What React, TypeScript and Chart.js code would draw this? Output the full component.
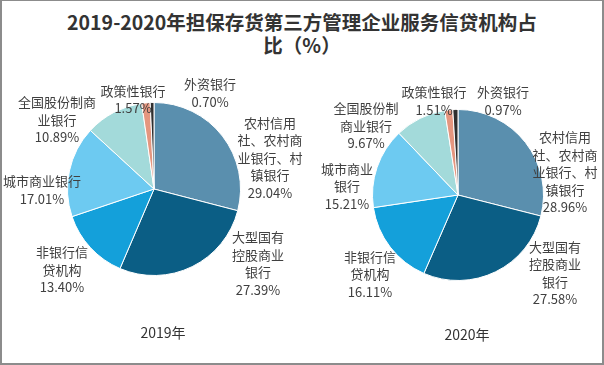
import React, { useEffect, useRef } from "react";
import { Chart, registerables } from "chart.js";

Chart.register(...registerables);

const categories = [
  "农村信用社、农村商业银行、村镇银行",
  "大型国有控股商业银行",
  "非银行信贷机构",
  "城市商业银行",
  "全国股份制商业银行",
  "政策性银行",
  "外资银行",
];
const values2019 = [29.04, 27.39, 13.4, 17.01, 10.89, 1.57, 0.7];
const values2020 = [28.96, 27.58, 16.11, 15.21, 9.67, 1.51, 0.97];
const labelLines2019 = [
  ["农村信用", "社、农村商", "业银行、村", "镇银行"],
  ["大型国有", "控股商业", "银行"],
  ["非银行信", "贷机构"],
  ["城市商业银行"],
  ["全国股份制商", "业银行"],
  ["政策性银行"],
  ["外资银行"],
];
const labelLines2020 = [
  ["农村信用", "社、农村商", "业银行、村", "镇银行"],
  ["大型国有", "控股商业", "银行"],
  ["非银行信", "贷机构"],
  ["城市商业", "银行"],
  ["全国股份制", "商业银行"],
  ["政策性银行"],
  ["外资银行"],
];
const yearLabels = ["2019年", "2020年"];
const titleLines = ["2019-2020年担保存货第三方管理企业服务信贷机构占", "比（%）"];

// styling / layout (not data)
const sliceColors = ["#5A8FAE", "#0B5E85", "#14A0DA", "#6DCAF1", "#A3DADA", "#E5967F", "#2F2F2F"];
const FONT = '"Noto Sans CJK SC", "Noto Sans", sans-serif';
const LINE_H = 17.5;
const labelOffsets2019 = [
  [116, -31], [104, 74.5], [-92, 81], [-112, 1], [-97, -69], [-21, -89.5], [56, -96],
];
const labelOffsets2020 = [
  [107, -22.5], [97, 78], [-88, 79.5], [-111, -8.5], [-92, -69], [-24, -94], [45, -94],
];
const yearOffset2019 = [9, 144];
const yearOffset2020 = [9, 140];

const labelPlugin = {
  id: "sliceLabels",
  afterDraw(chart: any) {
    const o = chart.options.plugins.sliceLabels;
    const meta = chart.getDatasetMeta(0);
    const ctx = chart.ctx;
    const values = chart.data.datasets[0].data;
    ctx.save();
    ctx.font = `13px ${FONT}`;
    ctx.fillStyle = "#404040";
    ctx.textAlign = "center";
    ctx.textBaseline = "middle";
    let cx = 0, cy = 0;
    meta.data.forEach((arc: any, i: number) => {
      cx = arc.x; cy = arc.y;
      const lines = [...o.lines[i], values[i].toFixed(2) + "%"];
      const [dx, dy] = o.offsets[i];
      const top = cy + dy - ((lines.length - 1) * LINE_H) / 2;
      lines.forEach((t: string, k: number) => ctx.fillText(t, cx + dx, top + k * LINE_H));
    });
    ctx.font = `14px ${FONT}`;
    ctx.fillStyle = "#333";
    ctx.fillText(o.year, cx + o.yearOffset[0], cy + o.yearOffset[1]);
    ctx.restore();
  },
};

function PieCanvas(props: { values: number[]; lines: string[][]; offsets: number[][]; year: string; yearOffset: number[]; padding: any }) {
  const ref = useRef<HTMLCanvasElement | null>(null);
  useEffect(() => {
    const chart = new Chart(ref.current as HTMLCanvasElement, {
      type: "pie",
      data: {
        labels: categories,
        datasets: [
          {
            data: props.values,
            backgroundColor: sliceColors,
            borderColor: "#ffffff",
            borderWidth: 1,
          },
        ],
      },
      options: {
        animation: false,
        responsive: false,
        maintainAspectRatio: false,
        layout: { padding: props.padding },
        plugins: {
          legend: { display: false },
          tooltip: { enabled: false },
          title: { display: false },
          sliceLabels: { lines: props.lines, offsets: props.offsets, year: props.year, yearOffset: props.yearOffset },
        } as any,
      },
      plugins: [labelPlugin],
    });
    return () => chart.destroy();
  }, []);
  return (
    <canvas
      ref={ref}
      width={604}
      height={365}
      style={{ position: "absolute", left: 0, top: 0, width: 604, height: 365 }}
    />
  );
}

export default function App() {
  useEffect(() => {
    document.body.style.margin = "0";
  }, []);
  return (
    <div style={{ position: "fixed", left: 0, top: 0, width: 604, height: 365, background: "#fff", overflow: "hidden" }}>
      <div
        style={{
          position: "absolute",
          left: 0,
          top: 10,
          width: 604,
          textAlign: "center",
          fontFamily: FONT,
          fontWeight: "bold",
          fontSize: 19.5,
          lineHeight: "23px",
          color: "#333",
        }}
      >
        {titleLines[0]}
        <br />
        {titleLines[1]}
      </div>
      <PieCanvas
        values={values2019}
        lines={labelLines2019}
        offsets={labelOffsets2019}
        year={yearLabels[0]}
        yearOffset={yearOffset2019}
        padding={{ left: 67, top: 102, right: 363, bottom: 89 }}
      />
      <PieCanvas
        values={values2020}
        lines={labelLines2020}
        offsets={labelOffsets2020}
        year={yearLabels[1]}
        yearOffset={yearOffset2020}
        padding={{ left: 372, top: 109, right: 60, bottom: 84 }}
      />
      <div
        style={{
          position: "absolute",
          left: 0,
          top: 0,
          width: 604,
          height: 365,
          boxSizing: "border-box",
          borderStyle: "solid",
          borderColor: "#8c8c8c",
          borderWidth: "1px 2px 2px 2px",
          pointerEvents: "none",
        }}
      />
    </div>
  );
}
